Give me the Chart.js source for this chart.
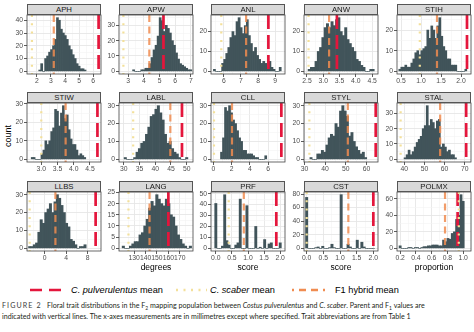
<!DOCTYPE html>
<html>
<head>
<meta charset="utf-8">
<script src="https://cdn.jsdelivr.net/npm/chart.js@4.4.1/dist/chart.umd.min.js"></script>
<style>
  html, body { margin: 0; padding: 0; background: #fff; }
  #fig { position: relative; width: 474px; height: 332px; overflow: hidden; font-family: "Liberation Sans", Arial, sans-serif; }
  #fig canvas { position: absolute; }
  .strip { position: absolute; width: 72px; height: 9px; background: #d9d9d9; border: 1px solid #555;
           font-size: 7.8px; line-height: 9px; text-align: center; color: #1a1a1a; z-index: 2; }
  .ytitle { position: absolute; left: -10px; top: 131px; width: 36px; text-align: center; font-size: 9px;
            transform: rotate(-90deg); color: #000; }
  .leg { position: absolute; font-size: 9.2px; line-height: 10px; color: #000; white-space: nowrap; }
  .legkey { position: absolute; }
  .cap { position: absolute; left: 2px; font-family: Lato, "Liberation Sans", sans-serif; font-size: 7.1px;
         line-height: 8px; color: #231f20; white-space: nowrap; }
  .cap sub { font-size: 70%; line-height: 0; vertical-align: -1.5px; }
  .fignum { letter-spacing: 1.1px; color: #3a3a3a; }
</style>
</head>
<body>
<div id="fig">
  <div class="ytitle">count</div>

  <svg class="legkey" style="left:30px;top:286px" width="32" height="8"><line x1="0" y1="4" x2="32" y2="4" stroke="#e4163c" stroke-width="2.6" stroke-dasharray="12,7"/></svg>
  <div class="leg" style="left:71px;top:285px"><i>C. pulverulentus</i> mean</div>
  <svg class="legkey" style="left:176px;top:286px" width="31" height="8"><line x1="0" y1="4" x2="31" y2="4" stroke="#f3e09a" stroke-width="2.4" stroke-dasharray="2,5.5"/></svg>
  <div class="leg" style="left:210px;top:285px"><i>C. scaber</i> mean</div>
  <svg class="legkey" style="left:292px;top:286px" width="33" height="8"><line x1="0" y1="4" x2="33" y2="4" stroke="#f08c50" stroke-width="2.4" stroke-dasharray="7,5" stroke-dashoffset="5"/></svg>
  <div class="leg" style="left:335px;top:285px">F1 hybrid mean</div>

  <div class="cap" style="top:302px"><span class="fignum">FIGURE 2</span>&nbsp;&nbsp; Floral trait distributions in the F<sub>2</sub> mapping population between <i>Costus pulverulentus</i> and <i>C. scaber</i>. Parent and F<sub>1</sub> values are</div>
  <div class="cap" style="top:313px">indicated with vertical lines. The x-axes measurements are in millimetres except where specified. Trait abbreviations are from Table 1</div>
</div>

<script>
// ===== Data =====
const panelNames = ["APH", "APW", "ANL", "ANW", "STIH",
                    "STIW", "LABL", "CLL", "STYL", "STAL",
                    "LLBS", "LANG", "PRF", "CST", "POLMX"];

// histogram bins: centre of the first bin and bin width
const binStart = [2.2, 3.35, 5.45, 2.57, 0.47, 2.72, 30.5, 0.9, 33.2, 40.4, -2.8, 120.5, 0, 0, 0.2];
const binWidth = [0.14, 0.13, 0.12, 0.07, 0.05, 0.06, 0.75, 0.22, 1.1, 1.0, 0.43, 2.1, 0.069, 0.069, 0.0276];

const countsAPH = [1, 6, 0, 10, 12, 15, 17, 20, 25, 42, 40, 33, 30, 28, 25, 20, 17, 13, 10, 6, 4, 2, 2, 1];
const countsAPW = [1, 0, 0, 0, 1, 1, 2, 2, 5, 9, 14, 17, 23, 35, 33, 26, 30, 28, 25, 20, 17, 12, 8, 5, 4, 3, 2, 1, 1];
const countsANL = [1, 0, 0, 0, 4, 6, 9, 12, 17, 20, 18, 25, 27, 22, 19, 23, 26, 18, 14, 10, 12, 8, 6, 4, 5, 4, 2, 5, 2, 1, 0, 0, 2];
const countsANW = [1, 2, 2, 5, 10, 12, 17, 22, 24, 22, 25, 23, 26, 27, 20, 18, 22, 16, 14, 12, 10, 6, 5, 3, 2, 0, 0, 1, 1];
const countsSTIH = [1, 2, 2, 3, 2, 2, 4, 6, 9, 10, 8, 10, 11, 12, 20, 16, 22, 20, 16, 22, 26, 17, 12, 10, 6, 6, 3, 3, 3, 0, 0, 0, 0, 1];
const countsSTIW = [1, 1, 0, 0, 0, 3, 5, 10, 8, 10, 15, 17, 27, 26, 18, 25, 29, 22, 24, 16, 11, 8, 8, 5, 2, 3, 2, 1];
const countsLABL = [1, 0, 0, 0, 1, 4, 6, 9, 10, 14, 18, 24, 25, 28, 30, 26, 22, 14, 9, 10, 6, 4, 3, 1, 0, 0, 1];
const countsCLL = [4, 12, 29, 27, 30, 26, 22, 20, 16, 12, 10, 5, 5, 3, 3, 3, 2, 1, 1, 0, 0, 0, 2];
const countsSTYL = [1, 0, 0, 3, 3, 5, 4, 8, 12, 14, 13, 20, 18, 27, 30, 27, 24, 13, 15, 10, 7, 5, 3, 4, 1];
const countsSTAL = [1, 3, 6, 3, 5, 8, 11, 13, 15, 20, 22, 35, 22, 26, 24, 20, 25, 26, 8, 10, 8, 5, 6, 3, 3, 1];
const countsLLBS = [1, 1, 2, 3, 9, 16, 14, 20, 22, 25, 20, 26, 30, 28, 24, 20, 14, 12, 5, 4, 2, 0, 1, 1, 2];
const countsLANG = [1, 0, 0, 1, 2, 3, 3, 6, 7, 10, 13, 18, 21, 19, 24, 22, 20, 19, 22, 20, 15, 14, 10, 6, 4, 2, 1, 0, 1];
const countsPRF = [41, 0, 0, 2, 49, 7, 3, 0, 0, 3, 5, 45, 0, 0, 39, 0, 0, 0, 20, 0, 1, 0, 8, 0, 4, 5, 0, 0, 0, 5];
const countsCST = [75, 0, 0, 0, 1, 2, 0, 3, 0, 0, 1, 6, 1, 0, 0, 79, 0, 0, 6, 2, 0, 0, 12, 0, 9, 2, 0, 0, 0, 0];
const countsPOLMX = [3, 0, 0, 0, 1, 1, 0, 1, 1, 0, 1, 2, 2, 3, 3, 4, 4, 4, 3, 3, 10, 8, 12, 11, 18, 20, 35, 40, 65, 57];

const counts = [countsAPH, countsAPW, countsANL, countsANW, countsSTIH,
                countsSTIW, countsLABL, countsCLL, countsSTYL, countsSTAL,
                countsLLBS, countsLANG, countsPRF, countsCST, countsPOLMX];

// vertical reference lines
const pulvMean   = [6.38, 5.25, 8.6, 3.42, 2.15, 4.73, 48.5, 7.45, 64.5, 70.7, 9.5, 160, 1.88, 2.0, 0.93];
const scaberMean = [1.65, 2.7, 5.85, 2.55, 0.97, 3.0, 33, 0.08, 32.4, 38.2, -2.8, 125, 0.4, 0.0, 0.945];
const f1Mean     = [3.2, 4.35, 7.3, 3.18, 1.4, 3.75, 44.8, 2.05, 51, 57.8, 2.0, 143.5, 0.87, 1.25, 0.77];

// axes
const xMin = [1.3, 2.42, 5.25, 2.41, 0.4, 2.56, 28.5, -0.25, 29.8, 36.4, -3.3, 116.7, -0.15, -0.08, 0.16];
const xMax = [6.55, 7.13, 9.57, 4.68, 2.25, 4.84, 52, 7.85, 65.6, 73.1, 10.5, 181.6, 2.15, 2.14, 1.1];
const xTickLabels = [
  [2, 3, 4, 5, 6], [3, 4, 5, 6, 7], [6, 7, 8, 9], [2.5, 3, 3.5, 4, 4.5], [0.5, 1, 1.5, 2],
  [3, 3.5, 4, 4.5], [30, 35, 40, 45, 50], [0, 2, 4, 6], [30, 40, 50, 60], [40, 50, 60, 70],
  [0, 4, 8], [130, 140, 150, 160, 170], [0, 0.5, 1, 1.5, 2], [0, 0.5, 1, 1.5, 2], [0.2, 0.4, 0.6, 0.8, 1]
];
const xDigits = [0, 0, 0, 1, 1, 1, 0, 0, 0, 0, 0, 0, 1, 1, 1];
const xTitles = ["", "", "", "", "", "", "", "", "", "", "", "degrees", "score", "score", "proportion"];

const yMin = [-2.1, -1.75, -1.35, -1.35, -1.3, -1.45, -1.5, -1.5, -1.5, -1.75, -1.5, -1.2, -2.45, -3.95, -3.25];
const yMax = [44.1, 36.75, 28.35, 28.35, 27.3, 30.45, 31.5, 31.5, 31.5, 36.75, 31.5, 25.2, 51.5, 82.95, 68.25];
const yTickLabels = [
  [0, 10, 20, 30, 40], [0, 10, 20, 30], [0, 10, 20], [0, 10, 20], [0, 10, 20],
  [0, 10, 20, 30], [0, 10, 20, 30], [0, 10, 20, 30], [0, 10, 20, 30], [0, 10, 20, 30],
  [0, 10, 20, 30], [0, 5, 10, 15, 20, 25], [0, 10, 20, 30, 40, 50], [0, 20, 40, 60, 80], [0, 20, 40, 60]
];

// ===== Layout / style =====
const colLeft = [27, 119, 211, 304, 397];
const rowTop = [15, 103, 192];
const plotW = 74, plotH = 59, stripH = 11;
const axisW = 22, padTop = 6, padRight = 8;
const barColor = "#41545a";

Chart.defaults.font.family = '"Liberation Sans", Arial, sans-serif';

// major ticks + minor (midpoint) ticks, like ggplot's grid
function buildTicks(major, lo, hi) {
  const step = major[1] - major[0];
  const all = major.map(v => ({ value: v, isMajor: true }));
  for (let k = -1; k < major.length; k++) {
    all.push({ value: major[0] + (k + 0.5) * step, isMajor: false });
  }
  return all
    .filter(t => t.value >= lo - 1e-9 && t.value <= hi + 1e-9)
    .sort((a, b) => a.value - b.value);
}

function gridColor(c) { return c.tick && c.tick.isMajor ? "#e6e6e6" : "#f3f3f3"; }
function gridWidth(c) { return c.tick && c.tick.isMajor ? 0.9 : 0.6; }
function tickColor(c) { return c.tick && c.tick.isMajor ? "#333" : "rgba(0,0,0,0)"; }

// reference lines + panel border
const panelLines = {
  id: "panelLines",
  afterDatasetsDraw(chart, args, opts) {
    const { ctx, chartArea: a } = chart;
    const x = chart.scales.x;
    ctx.save();
    ctx.beginPath();
    ctx.rect(a.left, a.top, a.width, a.height);
    ctx.clip();
    const vline = (v, color, width, dash) => {
      const px = x.getPixelForValue(v);
      ctx.beginPath();
      ctx.strokeStyle = color;
      ctx.lineWidth = width;
      ctx.setLineDash(dash);
      ctx.moveTo(px, a.top);
      ctx.lineTo(px, a.bottom);
      ctx.stroke();
    };
    vline(opts.pulv, "#e4163c", 2.7, [14, 6]);
    vline(opts.scaber, "#f3e09a", 2.2, [2, 6.3]);
    vline(opts.f1, "rgba(240,140,80,0.85)", 2.2, [7, 4.5]);
    ctx.restore();
    ctx.save();
    ctx.strokeStyle = "#444";
    ctx.lineWidth = 0.8;
    ctx.strokeRect(a.left, a.top, a.width, a.height);
    ctx.restore();
  }
};

const fig = document.getElementById("fig");

function buildPanel(i) {
  const col = i % 5, row = Math.floor(i / 5);
  const left = colLeft[col], top = rowTop[row];

  const strip = document.createElement("div");
  strip.className = "strip";
  strip.style.left = left + "px";
  strip.style.top = (top - stripH) + "px";
  strip.textContent = panelNames[i];
  fig.appendChild(strip);

  const xh = xTitles[i] ? 22 : 12;
  const canvas = document.createElement("canvas");
  canvas.width = axisW + plotW + padRight;
  canvas.height = padTop + plotH + xh;
  fig.appendChild(canvas);

  const pts = counts[i].map((c, k) => ({ x: binStart[i] + k * binWidth[i], y: c }));

  const chart = new Chart(canvas, {
    type: "bar",
    data: {
      datasets: [{
        data: pts,
        backgroundColor: barColor,
        borderWidth: 0,
        barPercentage: 1,
        categoryPercentage: 1
      }]
    },
    options: {
      responsive: false,
      animation: false,
      devicePixelRatio: 1,
      events: [],
      layout: { padding: { left: 0, right: padRight, top: padTop, bottom: 0 } },
      plugins: {
        legend: { display: false },
        tooltip: { enabled: false },
        panelLines: { pulv: pulvMean[i], scaber: scaberMean[i], f1: f1Mean[i] }
      },
      scales: {
        x: {
          type: "linear",
          min: xMin[i],
          max: xMax[i],
          bounds: "data",
          offset: false,
          grid: { offset: false, color: gridColor, lineWidth: gridWidth, tickColor: tickColor, tickLength: 3, tickWidth: 0.8 },
          border: { display: false },
          afterBuildTicks: s => { s.ticks = buildTicks(xTickLabels[i], xMin[i], xMax[i]); },
          afterFit: s => { s.height = xh; },
          ticks: {
            autoSkip: false,
            maxRotation: 0,
            padding: 0,
            color: "#4d4d4d",
            font: { size: 6.8 },
            callback: (v, k, ticks) => ticks[k].isMajor ? Number(v).toFixed(xDigits[i]) : ""
          },
          title: {
            display: !!xTitles[i],
            text: xTitles[i],
            color: "#000",
            padding: 0,
            font: { size: 8.5 }
          }
        },
        y: {
          type: "linear",
          min: yMin[i],
          max: yMax[i],
          bounds: "data",
          grid: { color: gridColor, lineWidth: gridWidth, tickColor: tickColor, tickLength: 3, tickWidth: 0.8 },
          border: { display: false },
          afterBuildTicks: s => { s.ticks = buildTicks(yTickLabels[i], yMin[i], yMax[i]); },
          afterFit: s => { s.width = axisW; },
          ticks: {
            autoSkip: false,
            padding: 1,
            color: "#4d4d4d",
            font: { size: 6.8 },
            callback: (v, k, ticks) => ticks[k].isMajor ? String(Math.round(v)) : ""
          }
        }
      }
    },
    plugins: [panelLines]
  });

  // line the chart area up with the panel slot
  const a = chart.chartArea;
  canvas.style.left = (left - a.left) + "px";
  canvas.style.top = (top - a.top) + "px";
}

panelNames.forEach((name, i) => buildPanel(i));
</script>
</body>
</html>
